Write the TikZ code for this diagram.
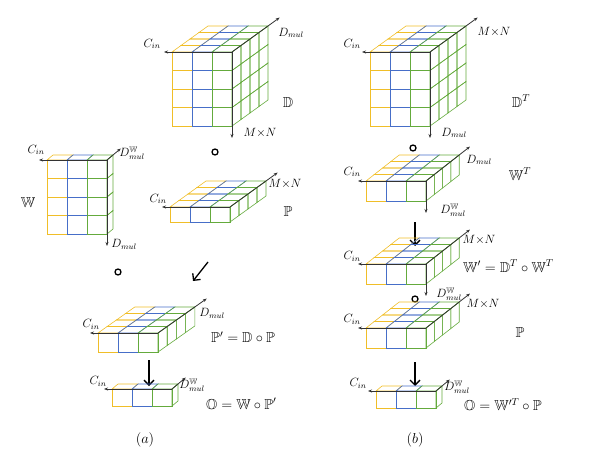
\documentclass[tikz,border=0pt]{standalone}
\usepackage{amssymb}
\usetikzlibrary{arrows.meta}
\definecolor{cy}{RGB}{240,190,40}
\definecolor{cb}{RGB}{70,110,200}
\definecolor{cg}{RGB}{100,170,60}
\tikzset{cell/.style={line width=0.6pt},
ax/.style={draw=black!80,line width=0.8pt,-{Stealth[length=4pt,width=3pt]}},
lab/.style={font=\large,inner sep=1pt},
big/.style={font=\Large,inner sep=1pt},
op/.style={circle,draw,line width=1.3pt,minimum size=6pt,inner sep=0pt},
arr/.style={line width=1.3pt,-{Straight Barb[length=5pt]}}}
% name, x, y, rows, h, depth, dx, dy
\newcommand{\gbox}[8]{%
 \foreach \c/\col in {0/cy,1/cb,2/cg}{%
  \foreach \r in {1,...,#4}{%
   \draw[cell,\col] ({#2+20*\c},{#3+(\r-1)*#5}) rectangle ++(20,#5);}
  \foreach \k in {1,...,#6}{%
   \draw[cell,\col] ({#2+20*\c+(\k-1)*#7},{#3+(\k-1)*#8}) -- ++(20,0) -- ++(#7,#8) -- ++(-20,0) -- cycle;}}
 \foreach \r in {1,...,#4}{\foreach \k in {1,...,#6}{%
   \draw[cell,cg] ({#2+60+(\k-1)*#7},{#3+(\r-1)*#5+(\k-1)*#8}) -- ++(0,#5) -- ++(#7,#8) -- ++(0,-#5) -- cycle;}}
 \coordinate (#1o) at ({#2+60},{#3});
 \coordinate (#1l) at ({#2-8},{#3});
 \coordinate (#1d) at ({#2+60+(#6+1.3)*#7},{#3+(#6+1.3)*#8});
 \coordinate (#1v) at ({#2+60},{#3+#4*#5+12});
}
\begin{document}
\begin{tikzpicture}[x=1pt,y=-1pt]
\useasboundingbox (0,0) rectangle (600,468);
% (a) D
\gbox{D}{172}{52}{4}{18.5}{4}{9}{-6.5}
\draw[ax] (Do) -- (Dl); \draw[ax] (Do) -- (Dd); \draw[ax] (Do) -- (Dv);
\node[lab] (D1) at (152,44) {$C_{in}$};
\node[lab] (D2) at (291,33) {$D_{mul}$};
\node[lab] (D3) at (260,133) {$M{\times}N$};
\node[big] (Dn) at (288,103) {$\mathbb{D}$};
\node[op] (c1) at (215,152) {};
% W
\gbox{W}{47}{160}{4}{18.5}{1}{6}{-5}
\draw[ax] (Wo) -- (Wl); \draw[ax] (Wo) -- (Wd); \draw[ax] (Wo) -- (Wv);
\node[lab] (W1) at (36,150) {$C_{in}$};
\node[lab] (W2) at (132,153) {$D_{mul}^{\mathbb{W}}$};
\node[lab] (W3) at (124,244) {$D_{mul}$};
\node[big] (Wn) at (28,203) {$\mathbb{W}$};
% P
\gbox{P}{170}{207}{1}{15}{4}{9}{-6.5}
\draw[ax] (Po) -- (Pl); \draw[ax] (Po) -- (Pd);
\node[lab] (P1) at (158,199) {$C_{in}$};
\node[lab] (P2) at (285,184) {$M{\times}N$};
\node[big] (Pn) at (288,212) {$\mathbb{P}$};
\node[op] (c2) at (118,272) {};
\coordinate (a1s) at (208,262); \coordinate (a1e) at (193,281);
\draw[arr] (a1s) -- (a1e);
% P'
\gbox{Q}{98}{333}{1}{19}{4}{9.2}{-6.5}
\draw[ax] (Qo) -- (Ql); \draw[ax] (Qo) -- (Qd);
\node[lab] (Q1) at (91,324) {$C_{in}$};
\node[lab] (Q2) at (212,313) {$D_{mul}$};
\node[big,anchor=west] (Qn) at (210,337) {$\mathbb{P}'=\mathbb{D}\circ\mathbb{P}$};
\coordinate (a2s) at (149,360); \coordinate (a2e) at (149,386);
\draw[arr] (a2s) -- (a2e);
% O
\gbox{O}{112}{389}{1}{17}{1}{6}{-5}
\draw[ax] (Oo) -- (Ol); \draw[ax] (Oo) -- (Od);
\node[lab] (O1) at (98,381) {$C_{in}$};
\node[lab] (O2) at (192,385) {$D_{mul}^{\mathbb{W}}$};
\node[big,anchor=west] (On) at (205,405) {$\mathbb{O}=\mathbb{W}\circ\mathbb{P}'$};
\node[font=\Large] (ca) at (145,440) {$(a)$};
% (b) DT
\gbox{E}{370}{52}{4}{18.5}{4}{9}{-6.5}
\draw[ax] (Eo) -- (El); \draw[ax] (Eo) -- (Ed); \draw[ax] (Eo) -- (Ev);
\node[lab] (E1) at (352,44) {$C_{in}$};
\node[lab] (E2) at (494,32) {$M{\times}N$};
\node[lab] (E3) at (454,133) {$D_{mul}$};
\node[big] (En) at (521,101) {$\mathbb{D}^T$};
\node[op] (c3) at (413,148) {};
% WT
\gbox{F}{366}{181}{1}{20}{4}{8.3}{-6.5}
\draw[ax] (Fo) -- (Fl); \draw[ax] (Fo) -- (Fd); \draw[ax] (Fo) -- (Fv);
\node[lab] (F1) at (352,172) {$C_{in}$};
\node[lab] (F2) at (479,160) {$D_{mul}$};
\node[lab] (F3) at (453,210) {$D_{mul}^{\mathbb{W}}$};
\node[big] (Fn) at (520,174) {$\mathbb{W}^T$};
\coordinate (a3s) at (415,222); \coordinate (a3e) at (415,246);
\draw[arr] (a3s) -- (a3e);
% W'
\gbox{G}{366}{264}{1}{20}{4}{8.3}{-6.5}
\draw[ax] (Go) -- (Gl); \draw[ax] (Go) -- (Gd); \draw[ax] (Go) -- (Gv);
\node[lab] (G1) at (352,256) {$C_{in}$};
\node[lab] (G2) at (479,240) {$M{\times}N$};
\node[lab] (G3) at (449,294) {$D_{mul}^{\mathbb{W}}$};
\node[big,anchor=west] (Gn) at (462,266) {$\mathbb{W}'=\mathbb{D}^T\circ\mathbb{W}^T$};
\node[op] (c4) at (415,299) {};
% P (b)
\gbox{H}{366}{328}{1}{20}{4}{8.3}{-6.5}
\draw[ax] (Ho) -- (Hl); \draw[ax] (Ho) -- (Hd);
\node[lab] (H1) at (352,319) {$C_{in}$};
\node[lab] (H2) at (483,304) {$M{\times}N$};
\node[big] (Hn) at (520,333) {$\mathbb{P}$};
\coordinate (a4s) at (415,362); \coordinate (a4e) at (415,386);
\draw[arr] (a4s) -- (a4e);
% O (b)
\gbox{K}{376}{391}{1}{17}{1}{6}{-5}
\draw[ax] (Ko) -- (Kl); \draw[ax] (Ko) -- (Kd);
\node[lab] (K1) at (358,383) {$C_{in}$};
\node[lab] (K2) at (457,387) {$D_{mul}^{\mathbb{W}}$};
\node[big,anchor=west] (Kn) at (463,406) {$\mathbb{O}=\mathbb{W}'^T\circ\mathbb{P}$};
\node[font=\Large] (cb) at (415,440) {$(b)$};
\end{tikzpicture}
\end{document}
